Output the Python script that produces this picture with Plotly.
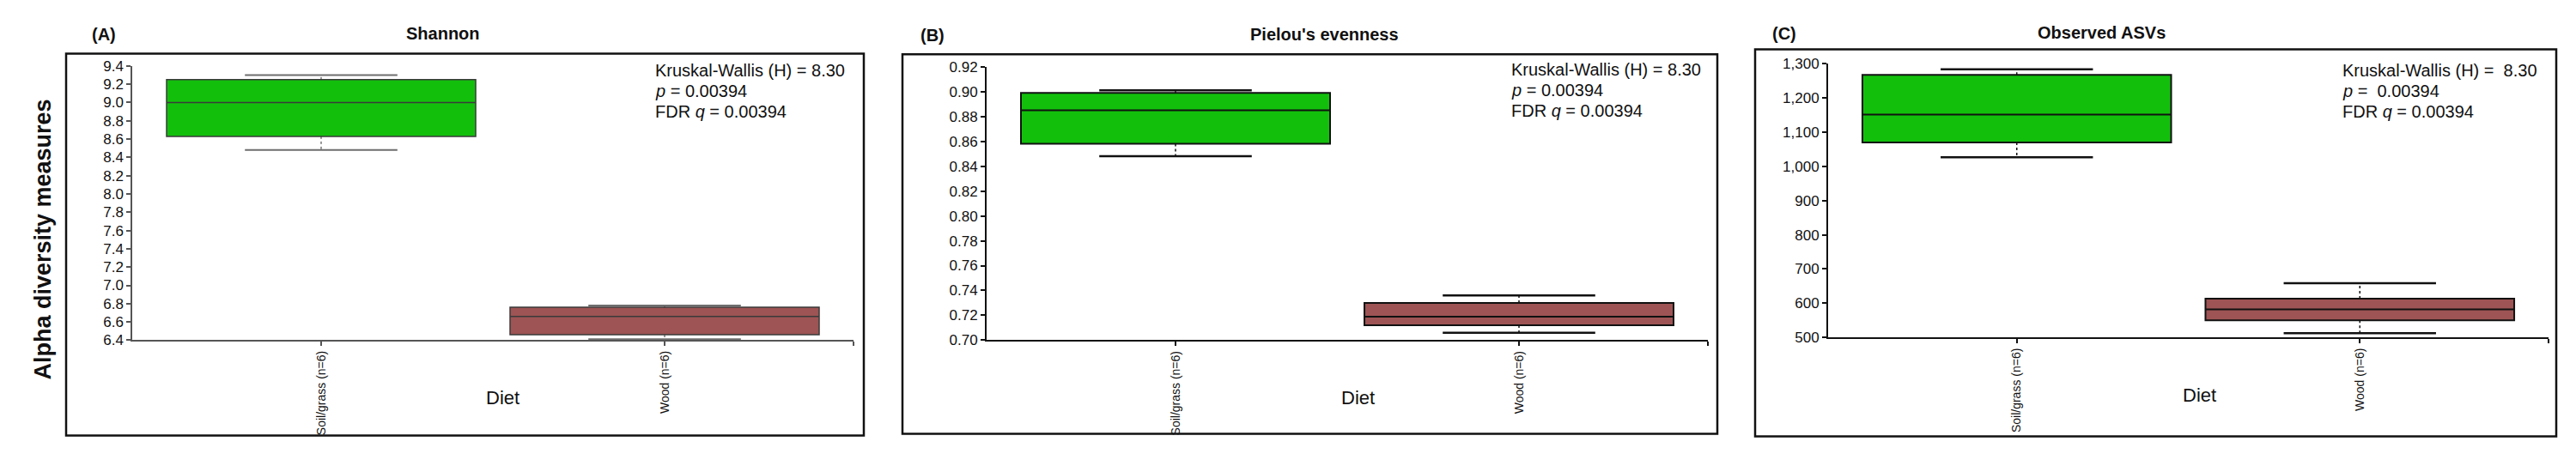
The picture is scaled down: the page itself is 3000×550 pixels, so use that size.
import plotly.graph_objects as go

W, H = 3000, 550

groups = ["Soil/grass (n=6)", "Wood (n=6)"]
group_pos = [0, 1]
group_fill = ["#12c00c", "#9e5454"]

# Shannon
shannon_q1 = [8.63, 6.46]
shannon_median = [9.00, 6.66]
shannon_q3 = [9.25, 6.76]
shannon_low = [8.48, 6.41]
shannon_high = [9.30, 6.78]

# Pielou's evenness
pielou_q1 = [0.858, 0.712]
pielou_median = [0.885, 0.719]
pielou_q3 = [0.899, 0.730]
pielou_low = [0.848, 0.706]
pielou_high = [0.901, 0.736]

# Observed ASVs
asv_q1 = [1070, 550]
asv_median = [1152, 582]
asv_q3 = [1268, 613]
asv_low = [1027, 512]
asv_high = [1284, 658]

stats_text = [
    ["Kruskal-Wallis (H) = 8.30", "<i>p</i> = 0.00394", "FDR <i>q</i> = 0.00394"],
    ["Kruskal-Wallis (H) = 8.30", "<i>p</i> = 0.00394", "FDR <i>q</i> = 0.00394"],
    ["Kruskal-Wallis (H) =  8.30", "<i>p</i> =  0.00394", "FDR <i>q</i> = 0.00394"],
]

FONT = "Liberation Sans, Arial, sans-serif"


def px(x):
    return x / W


def py(y):
    return 1 - y / H


panels = [
    dict(name="Shannon", tag="(A)", q1=shannon_q1, med=shannon_median, q3=shannon_q3,
         low=shannon_low, high=shannon_high, yrange=[6.4, 9.4], dtick=0.2, fmt=".1f",
         frame=(69, 47, 998, 508), plot=(146, 62, 986, 393),
         title_x=508, title_y=23, tag_x=97, tag_y=24, diet=(577, 462), stats=(753, 67),
         axis_col="#555555", axis_w=1.5, box_col="#3a3a3a", box_w=1.5,
         wh_col="#6e6e6e", wh_w=2, stem_col="#333333", stem_w=1),
    dict(name="Pielou's evenness", tag="(B)", q1=pielou_q1, med=pielou_median, q3=pielou_q3,
         low=pielou_low, high=pielou_high, yrange=[0.70, 0.92], dtick=0.02, fmt=".2f",
         frame=(1043, 48, 1992, 506), plot=(1141, 63, 1981, 393),
         title_x=1534, title_y=24, tag_x=1062, tag_y=25, diet=(1573, 462), stats=(1750, 66),
         axis_col="#111111", axis_w=2, box_col="#111111", box_w=2,
         wh_col="#111111", wh_w=2.5, stem_col="#111111", stem_w=1.5),
    dict(name="Observed ASVs", tag="(C)", q1=asv_q1, med=asv_median, q3=asv_q3,
         low=asv_low, high=asv_high, yrange=[500, 1300], dtick=100, fmt=",d",
         frame=(2036, 42, 2969, 509), plot=(2121, 59.5, 2960, 389.5),
         title_x=2439, title_y=22, tag_x=2054, tag_y=23, diet=(2553, 459), stats=(2718, 67),
         axis_col="#111111", axis_w=2, box_col="#111111", box_w=2,
         wh_col="#111111", wh_w=2.5, stem_col="#111111", stem_w=1.5),
]

BOX_W = 0.9
CAP_HALF = 0.222
XRANGE = [-0.55, 1.55]

fig = go.Figure()
annotations = []
shapes = []
layout_axes = {}

for i, p in enumerate(panels):
    n = "" if i == 0 else str(i + 1)
    xa, ya = "x" + n, "y" + n

    for j, g in enumerate(groups):
        x0 = group_pos[j]
        # whisker stems (dotted) and caps
        fig.add_trace(go.Scatter(
            x=[x0, x0, None, x0, x0],
            y=[p["q3"][j], p["high"][j], None, p["q1"][j], p["low"][j]],
            mode="lines", line=dict(color=p["stem_col"], width=p["stem_w"], dash="dot"),
            xaxis=xa, yaxis=ya, showlegend=False, hoverinfo="skip"))
        fig.add_trace(go.Scatter(
            x=[x0 - CAP_HALF, x0 + CAP_HALF, None, x0 - CAP_HALF, x0 + CAP_HALF],
            y=[p["high"][j], p["high"][j], None, p["low"][j], p["low"][j]],
            mode="lines", line=dict(color=p["wh_col"], width=p["wh_w"]),
            xaxis=xa, yaxis=ya, showlegend=False, hoverinfo="skip", cliponaxis=False))
        fig.add_trace(go.Box(
            x=[x0], q1=[p["q1"][j]], median=[p["med"][j]], q3=[p["q3"][j]],
            lowerfence=[p["q1"][j]], upperfence=[p["q3"][j]],
            width=BOX_W, fillcolor=group_fill[j],
            line=dict(color=p["box_col"], width=p["box_w"]),
            boxpoints=False, name=g, xaxis=xa, yaxis=ya, showlegend=False))

    l, t, r, b = p["plot"]
    layout_axes["xaxis" + n] = dict(
        domain=[px(l), px(r)], anchor=ya, range=XRANGE,
        tickmode="array", tickvals=group_pos + [1.549], ticktext=groups + [""],
        tickangle=-90, ticks="outside", ticklen=5, tickwidth=p["axis_w"],
        tickcolor=p["axis_col"], showline=True, linecolor=p["axis_col"],
        linewidth=p["axis_w"], showgrid=False, zeroline=False,
        tickfont=dict(family=FONT, size=14, color="#111111"))
    layout_axes["yaxis" + n] = dict(
        domain=[py(b), py(t)], anchor=xa, range=p["yrange"],
        tick0=p["yrange"][0], dtick=p["dtick"], tickformat=p["fmt"],
        ticks="outside", ticklen=5, tickwidth=p["axis_w"], tickcolor=p["axis_col"],
        showline=True, linecolor=p["axis_col"], linewidth=p["axis_w"],
        showgrid=False, zeroline=False,
        tickfont=dict(family=FONT, size=17, color="#111111"))

    fl, ft, fr, fb = p["frame"]
    shapes.append(dict(type="rect", xref="paper", yref="paper",
                       x0=px(fl), x1=px(fr), y0=py(fb), y1=py(ft),
                       line=dict(color="#111111", width=2.5)))

    annotations.append(dict(text="<b>%s</b>" % p["name"], x=px(p["title_x"]), y=py(p["title_y"]),
                            xref="paper", yref="paper", showarrow=False,
                            xanchor="center", yanchor="middle",
                            font=dict(family=FONT, size=20, color="#111111")))
    annotations.append(dict(text="<b>%s</b>" % p["tag"], x=px(p["tag_x"]), y=py(p["tag_y"]),
                            xref="paper", yref="paper", showarrow=False,
                            xanchor="left", yanchor="middle",
                            font=dict(family=FONT, size=20, color="#111111")))
    annotations.append(dict(text="Diet", x=px(p["diet"][0]), y=py(p["diet"][1]),
                            xref="paper", yref="paper", showarrow=False,
                            xanchor="center", yanchor="middle",
                            font=dict(family=FONT, size=22, color="#111111")))
    sx, sy = p["stats"]
    for k, line in enumerate(stats_text[i]):
        annotations.append(dict(text=line, x=px(sx), y=py(sy + 25 * k),
                                xref="paper", yref="paper", showarrow=False,
                                xanchor="left", yanchor="middle",
                                font=dict(family=FONT, size=20, color="#111111")))

annotations.append(dict(text="<b>Alpha diversity measures</b>", x=px(42), y=py(272),
                        xref="paper", yref="paper", showarrow=False, textangle=-90,
                        xanchor="center", yanchor="middle",
                        font=dict(family=FONT, size=27, color="#111111")))

fig.update_layout(
    width=W, height=H,
    margin=dict(l=0, r=0, t=0, b=0),
    paper_bgcolor="white", plot_bgcolor="white",
    showlegend=False,
    annotations=annotations,
    shapes=shapes,
    **layout_axes,
)

fig.write_html("out.html")
